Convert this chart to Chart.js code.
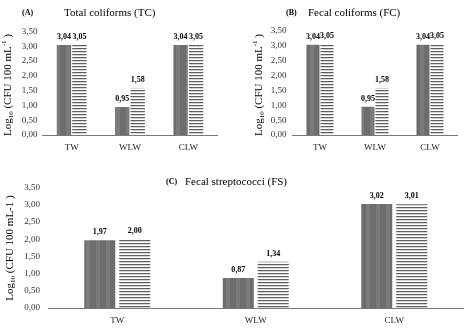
<!DOCTYPE html>
<html>
<head>
<meta charset="utf-8">
<script src="https://cdn.jsdelivr.net/npm/chart.js@4/dist/chart.umd.min.js"></script>
<style>
  html, body { margin: 0; padding: 0; background: #fff; }
  #wrap { position: relative; width: 474px; height: 328px; overflow: hidden; }
  canvas { position: absolute; }
</style>
</head>
<body>
<div id="wrap">
  <canvas id="chartA" width="234" height="165" style="left:0;top:0"></canvas>
  <canvas id="chartB" width="240" height="165" style="left:234px;top:0"></canvas>
  <canvas id="chartC" width="474" height="163" style="left:0;top:165px"></canvas>
</div>
<script>
// ------------------------------------------------------------
// Data
// ------------------------------------------------------------
const categories = ["TW", "WLW", "CLW"];

const tcDark = [3.04, 0.95, 3.04];
const tcStriped = [3.05, 1.58, 3.05];

const fcDark = [3.04, 0.95, 3.04];
const fcStriped = [3.05, 1.58, 3.05];

const fsDark = [1.97, 0.87, 3.02];
const fsStriped = [2.00, 1.34, 3.01];

const yMax = 3.5;
const yStep = 0.5;

const SERIF = "'Liberation Serif', 'Times New Roman', serif";

// ------------------------------------------------------------
// Fill patterns
// ------------------------------------------------------------
function darkPattern() {
  const c = document.createElement("canvas");
  c.width = 10; c.height = 1;
  const x = c.getContext("2d");
  x.fillStyle = "#6d6d6d"; x.fillRect(0, 0, 10, 1);
  x.fillStyle = "#7b7b7b"; x.fillRect(6, 0, 4, 1);
  return x.createPattern(c, "repeat");
}

function stripePattern() {
  const c = document.createElement("canvas");
  c.width = 1; c.height = 3;
  const x = c.getContext("2d");
  x.fillStyle = "#5e5e5e"; x.fillRect(0, 0, 1, 1);
  x.fillStyle = "#d6d6d6"; x.fillRect(0, 1, 1, 1);
  x.fillStyle = "#ffffff"; x.fillRect(0, 2, 1, 1);
  return x.createPattern(c, "repeat");
}

const fmt = v => v.toFixed(2).replace(".", ",");

// ------------------------------------------------------------
// Plugin : titles, rotated y title, value labels
// ------------------------------------------------------------
function richWidth(ctx, parts) {
  let w = 0;
  parts.forEach(p => { ctx.font = p.font; w += ctx.measureText(p.t).width; });
  return w;
}

const decor = {
  id: "decor",
  afterDatasetsDraw(chart, args, opts) {
    const ctx = chart.ctx;
    ctx.save();
    ctx.fillStyle = "#000";

    // value labels
    ctx.font = "bold 8px " + SERIF;
    ctx.textAlign = "center";
    ctx.textBaseline = "bottom";
    chart.data.datasets.forEach((ds, i) => {
      chart.getDatasetMeta(i).data.forEach((el, j) => {
        ctx.fillText(fmt(ds.data[j]), el.x, el.y - 4);
      });
    });

    // panel title
    ctx.textAlign = "left";
    ctx.textBaseline = "middle";
    ctx.font = "bold 8px " + SERIF;
    ctx.fillText(opts.tag, opts.tagX, opts.titleY);
    ctx.font = "11px " + SERIF;
    ctx.fillText(opts.title, opts.titleX, opts.titleY);

    // rotated y title with sub / superscript
    const parts = opts.yParts;
    const w = richWidth(ctx, parts);
    ctx.translate(opts.yTitleX, opts.yTitleY);
    ctx.rotate(-Math.PI / 2);
    let x = -w / 2;
    parts.forEach(p => {
      ctx.font = p.font;
      ctx.fillText(p.t, x, p.dy || 0);
      x += ctx.measureText(p.t).width;
    });
    ctx.restore();
  }
};

function yParts(superscript) {
  const big = "11px " + SERIF;
  const small = "7px " + SERIF;
  const parts = [
    { t: "Log", font: big },
    { t: "10", font: small, dy: 3 }
  ];
  if (superscript) {
    parts.push({ t: " (CFU 100 mL", font: big });
    parts.push({ t: "-1", font: small, dy: -4 });
    parts.push({ t: " )", font: big });
  } else {
    parts.push({ t: " (CFU 100 mL-1 )", font: big });
  }
  return parts;
}

// ------------------------------------------------------------
// Chart builder
// ------------------------------------------------------------
function makeChart(id, dark, striped, lay, text) {
  const ctx = document.getElementById(id).getContext("2d");
  return new Chart(ctx, {
    type: "bar",
    data: {
      labels: categories,
      datasets: [
        {
          data: dark,
          backgroundColor: darkPattern(),
          borderWidth: 0,
          categoryPercentage: lay.cat,
          barPercentage: lay.bar
        },
        {
          data: striped,
          backgroundColor: stripePattern(),
          borderWidth: 0,
          categoryPercentage: lay.cat,
          barPercentage: lay.bar
        }
      ]
    },
    options: {
      responsive: false,
      animation: false,
      layout: { padding: { left: 0, right: lay.right, top: lay.top, bottom: 0 } },
      plugins: {
        legend: { display: false },
        tooltip: { enabled: false },
        decor: text
      },
      scales: {
        x: {
          grid: { display: false, drawTicks: false },
          border: { display: true, color: "#7a7a7a", width: 1 },
          ticks: { color: "#222", padding: 7, font: { family: SERIF, size: 9 } },
          afterFit: s => { s.height = lay.xh; }
        },
        y: {
          min: 0,
          max: yMax,
          grid: { display: false, drawTicks: false },
          border: { display: false },
          ticks: {
            stepSize: yStep,
            color: "#333",
            padding: lay.tp,
            font: { family: SERIF, size: 9 },
            callback: v => fmt(v)
          },
          afterFit: s => { s.width = lay.yw; }
        }
      }
    },
    plugins: [decor]
  });
}

makeChart("chartA", tcDark, tcStriped,
  { cat: 0.53, bar: 0.93, right: 16.5, top: 31.5, xh: 30, yw: 42.5, tp: 5 },
  { tag: "(A)", tagX: 22, title: "Total coliforms (TC)", titleX: 64, titleY: 13,
    yParts: yParts(true), yTitleX: 8, yTitleY: 85 });

makeChart("chartB", fcDark, fcStriped,
  { cat: 0.51, bar: 0.93, right: 16.5, top: 31, xh: 30, yw: 58.5, tp: 6 },
  { tag: "(B)", tagX: 52, title: "Fecal coliforms (FC)", titleX: 74, titleY: 13,
    yParts: yParts(true), yTitleX: 25, yTitleY: 85 });

makeChart("chartC", fsDark, fsStriped,
  { cat: 0.505, bar: 0.886, right: 10.5, top: 22.5, xh: 20, yw: 48, tp: 8 },
  { tag: "(C)", tagX: 166, title: "Fecal streptococci (FS)", titleX: 185, titleY: 17,
    yParts: yParts(false), yTitleX: 10, yTitleY: 83 });
</script>
</body>
</html>
